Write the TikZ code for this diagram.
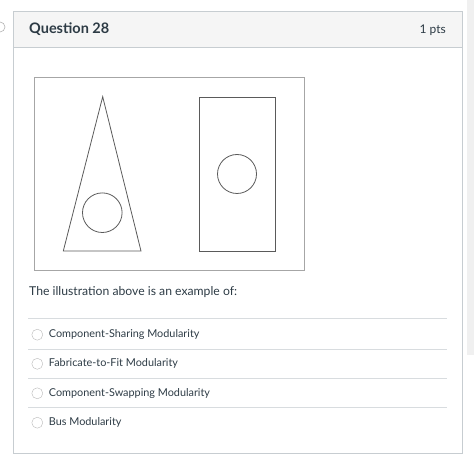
\documentclass[tikz,border=0pt]{standalone}
\usepackage{fontspec}
\setmainfont{Lato}
\usepackage{tikz}
\usetikzlibrary{positioning,calc}

\definecolor{inkgrey}{HTML}{2D3B45}
\definecolor{cardline}{HTML}{C7CDD1}
\definecolor{headfill}{HTML}{F5F5F5}
\definecolor{figline}{HTML}{5A5A5A}

\begin{document}
\begin{tikzpicture}[x=1pt,y=-1pt,
		label/.style={anchor=base west,inner sep=0pt,text=inkgrey},
		answer/.style={label,font=\fontsize{10.85}{13}\selectfont},
		radio/.style={circle,draw=gray!55,fill=white,minimum size=11pt,inner sep=0pt},
		sep/.style={draw=cardline!70,line width=.6pt},
		fig/.style={draw=figline,line width=.8pt},
	]
		\useasboundingbox (0,0) rectangle (474,462);
		% page bits
		\fill[gray!12] (467,0) rectangle (474,355);
		\begin{scope}
			\clip (0,0) rectangle (8,462);
			\draw[gray!60,line width=.6pt] (0,27) circle (5);
		\end{scope}
		% card
		\filldraw[fill=headfill,draw=cardline,line width=.7pt] (13,11) rectangle (462,47);
		\draw[cardline,line width=.7pt] (13,47) -- (13,453) -- (462,453) -- (462,47);
		\node[label,font=\fontsize{14.5}{17}\selectfont\bfseries] (qtitle) at (29,33.5) {Question 28};
		\node[label,anchor=base east,font=\fontsize{12}{14}\selectfont] (qpts) at (446,33.5) {1 pts};

		% the illustration
		\draw[draw=gray!70,line width=.6pt] (34,77) rectangle (304,270);
		\draw[fig] (102.7,96.7) -- (141,251) -- (63.3,251) -- cycle;
		\draw[fig] (102.3,212.7) circle (19.8);
		\draw[fig] (199,97.3) rectangle (275.7,251);
		\draw[fig] (237,174) circle (19.5);

		\node[label,font=\fontsize{12.2}{15}\selectfont] (qtext) at (29,296) {The illustration above is an example of:};

		% answers
		\foreach \y in {318.5,349,378.7,407.7}
			\draw[sep] (28,\y) -- (447,\y);
		\node[radio] (ra) at (37.3,334.7) {};
		\node[radio] (rb) at (37.3,363.8) {};
		\node[radio] (rc) at (37.3,393.3) {};
		\node[radio] (rd) at (37.3,422.7) {};
		\node[answer] (aa) at (48.7,337.5) {Component-Sharing Modularity};
		\node[answer] (ab) at (48.7,366.6) {Fabricate-to-Fit Modularity};
		\node[answer] (ac) at (48.7,396.1) {Component-Swapping Modularity};
		\node[answer] (ad) at (48.7,425.5) {Bus Modularity};
	\end{tikzpicture}
\end{document}
